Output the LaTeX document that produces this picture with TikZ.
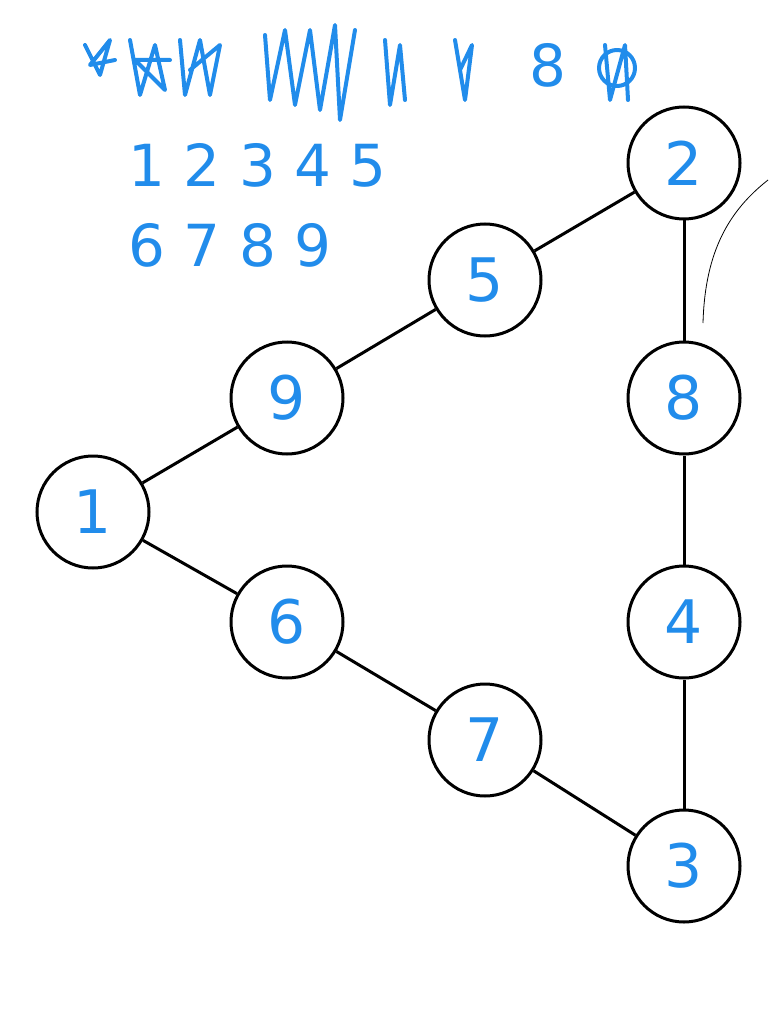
\documentclass[tikz,border=0pt]{standalone}
\usepackage{fontspec}
\setmainfont{DejaVu Sans}
\definecolor{ink}{RGB}{33,140,235}
\begin{document}
\begin{tikzpicture}[x=1pt,y=-1pt,
  vert/.style={circle,draw=black,line width=3pt,minimum size=112pt,inner sep=0pt,fill=white,text=ink,font=\fontsize{60}{60}\selectfont},
  edge/.style={draw=black,line width=3pt},
  hand/.style={text=ink,font=\fontsize{58}{58}\selectfont},
  scrib/.style={draw=ink,line width=4pt,line cap=round,line join=round}]
\useasboundingbox (0,0) rectangle (768,1024);
\node[vert] (n2) at (684,163) {2};
\node[vert] (n5) at (485,280) {5};
\node[vert] (n9) at (287,398) {9};
\node[vert] (n1) at (93,512) {1};
\node[vert] (n6) at (287,622) {6};
\node[vert] (n7) at (485,740) {7};
\node[vert] (n3) at (684,866) {3};
\node[vert] (n8) at (684,398) {8};
\node[vert] (n4) at (684,622) {4};
\begin{scope}[on background layer/.style={}]
\end{scope}
\foreach \a/\b in {n2/n5,n5/n9,n9/n1,n1/n6,n6/n7,n7/n3,n2/n8,n8/n4,n4/n3}
  \draw[edge] (\a) -- (\b);
\draw[black,line width=0.8pt] (703,323) .. controls (705,250) and (730,210) .. (768,180);
% scribbled row
\draw[scrib] (85,45) -- (100,75) -- (110,40) -- (90,65) -- (115,60);
\draw[scrib] (130,40) -- (140,95) -- (155,45) -- (165,90) -- (135,60) -- (170,60);
\draw[scrib] (180,40) -- (185,95) -- (200,40) -- (210,95) -- (220,45) -- (190,70);
\draw[scrib] (265,35) -- (270,100) -- (285,30) -- (295,105) -- (310,30) -- (320,110) -- (335,25) -- (340,120) -- (355,30) -- (345,90);
\draw[scrib] (385,40) -- (390,105) -- (400,45) -- (405,100);
\draw[scrib] (455,40) -- (465,100) -- (472,45) -- (460,70);
\node[hand] (t8) at (548,65) {8};
\draw[scrib] (617,68) circle (18pt);
\draw[scrib] (605,45) -- (610,100) -- (625,45) -- (628,100);
\node[hand,anchor=west] (row2) at (125,165) {1 2 3 4 5};
\node[hand,anchor=west] (row3) at (125,245) {6 7 8 9};
\end{tikzpicture}
\end{document}
